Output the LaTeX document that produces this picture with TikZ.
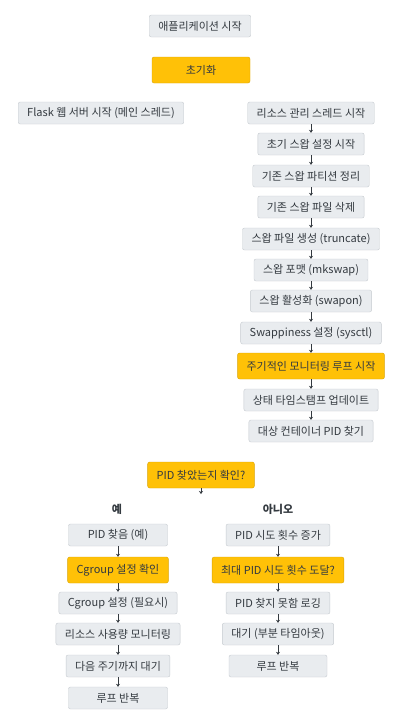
\documentclass[tikz,border=0pt]{standalone}
\usepackage{fontspec}
\setmainfont{Noto Sans CJK KR}
\usetikzlibrary{arrows.meta}
\definecolor{boxgray}{HTML}{E9ECEF}
\definecolor{linegray}{HTML}{C6CBD0}
\definecolor{hlyellow}{HTML}{FFC107}
\definecolor{hlline}{HTML}{D9A406}
\definecolor{txt}{HTML}{343A40}
\tikzstyle{box}=[draw=linegray,fill=boxgray,rounded corners=2pt,minimum height=22,inner xsep=9pt,inner ysep=2pt,text=txt,font=\fontsize{11pt}{13pt}\selectfont]
\tikzstyle{hl}=[box,draw=hlline,fill=hlyellow,minimum height=26]
\tikzstyle{lbl}=[text=txt,font=\fontsize{11pt}{13pt}\selectfont\bfseries]
\tikzstyle{arr}=[-{Stealth[length=3pt,width=4pt]},draw=txt,line width=0.6pt]

\begin{document}
\begin{tikzpicture}[x=1pt,y=-1pt]
\useasboundingbox[fill=white] (0,0) rectangle (400,716);

\node (app) at (200, 26) [box] {애플리케이션 시작};
\node (init) at (201, 70) [hl, minimum width=98] {초기화};

\node (flask) at (101, 113) [box] {Flask 웹 서버 시작 (메인 스레드)};

% resource thread column
\node (res) at (311, 113) [box] {리소스 관리 스레드 시작};
\node (swap0) at (311, 144) [box] {초기 스왑 설정 시작};
\node (swap1) at (311, 176) [box] {기존 스왑 파티션 정리};
\node (swap2) at (311, 207) [box] {기존 스왑 파일 삭제};
\node (swap3) at (311, 239) [box] {스왑 파일 생성 (truncate)};
\node (swap4) at (311, 270) [box] {스왑 포맷 (mkswap)};
\node (swap5) at (311, 301) [box] {스왑 활성화 (swapon)};
\node (swap6) at (311, 333) [box] {Swappiness 설정 (sysctl)};
\node (loop) at (311, 366) [hl] {주기적인 모니터링 루프 시작};
\node (stamp) at (311, 400) [box] {상태 타임스탬프 업데이트};
\node (find) at (311, 431) [box] {대상 컨테이너 PID 찾기};

\draw [arr] (res) -- (swap0);
\draw [arr] (swap0) -- (swap1);
\draw [arr] (swap1) -- (swap2);
\draw [arr] (swap2) -- (swap3);
\draw [arr] (swap3) -- (swap4);
\draw [arr] (swap4) -- (swap5);
\draw [arr] (swap5) -- (swap6);
\draw [arr] (swap6) -- (loop);
\draw [arr] (loop) -- (stamp);
\draw [arr] (stamp) -- (find);

% decision
\node (check) at (201, 475) [hl] {PID 찾았는지 확인?};
\coordinate (checkend) at (201, 494);
\draw [arr] (check) -- (checkend);

\node (yes) at (117, 509) [lbl] {예};
\node (no) at (278, 509) [lbl] {아니오};

% yes branch
\node (y1) at (118, 535) [box, minimum width=99] {PID 찾음 (예)};
\node (y2) at (118, 570) [hl] {Cgroup 설정 확인};
\node (y3) at (118, 603) [box] {Cgroup 설정 (필요시)};
\node (y4) at (118, 634) [box] {리소스 사용량 모니터링};
\node (y5) at (118, 666) [box] {다음 주기까지 대기};
\node (y6) at (118, 698) [box, minimum width=99] {루프 반복};

\draw [arr] (y1) -- (y2);
\draw [arr] (y2) -- (y3);
\draw [arr] (y3) -- (y4);
\draw [arr] (y4) -- (y5);
\draw [arr] (y5) -- (y6);

% no branch
\node (n1) at (278, 535) [box] {PID 시도 횟수 증가};
\node (n2) at (278, 570) [hl] {최대 PID 시도 횟수 도달?};
\node (n3) at (278, 603) [box] {PID 찾지 못함 로깅};
\node (n4) at (278, 634) [box] {대기 (부분 타임아웃)};
\node (n5) at (278, 666) [box, minimum width=98] {루프 반복};

\draw [arr] (n1) -- (n2);
\draw [arr] (n2) -- (n3);
\draw [arr] (n3) -- (n4);
\draw [arr] (n4) -- (n5);

\end{tikzpicture}
\end{document}
